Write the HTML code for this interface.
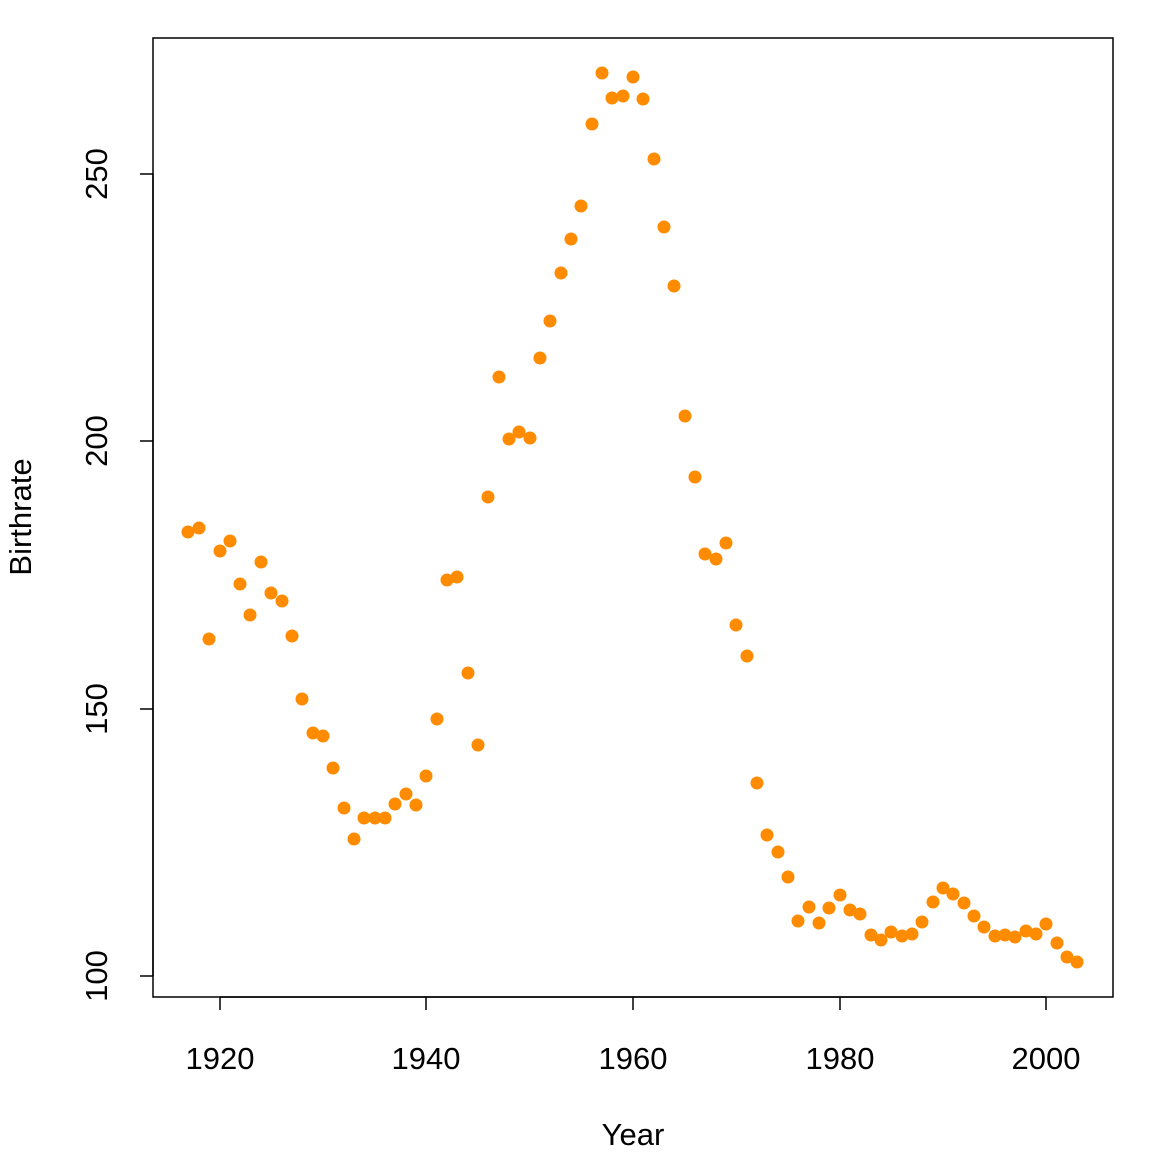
<!DOCTYPE html>
<html><head><meta charset="utf-8"><style>html,body{margin:0;padding:0;background:#fff}</style></head>
<body>
<svg width="1152" height="1152" viewBox="0 0 1152 1152" xmlns="http://www.w3.org/2000/svg" font-family="Liberation Sans, sans-serif">
<rect x="153" y="38" width="960" height="959" fill="none" stroke="#000" stroke-width="1.5"/>
<g stroke="#000" stroke-width="1.5">
<line x1="220" y1="997" x2="1046" y2="997"/>
<line x1="220" y1="997" x2="220" y2="1010"/>
<line x1="426" y1="997" x2="426" y2="1010"/>
<line x1="633" y1="997" x2="633" y2="1010"/>
<line x1="840" y1="997" x2="840" y2="1010"/>
<line x1="1046" y1="997" x2="1046" y2="1010"/>
<line x1="153" y1="174" x2="153" y2="976"/>
<line x1="140" y1="976" x2="153" y2="976"/>
<line x1="140" y1="709" x2="153" y2="709"/>
<line x1="140" y1="441" x2="153" y2="441"/>
<line x1="140" y1="174" x2="153" y2="174"/>
</g>
<g font-size="31" text-anchor="middle" fill="#000">
<text x="220" y="1069">1920</text>
<text x="426" y="1069">1940</text>
<text x="633" y="1069">1960</text>
<text x="840" y="1069">1980</text>
<text x="1046" y="1069">2000</text>
<text transform="translate(107,976) rotate(-90)">100</text>
<text transform="translate(107,709) rotate(-90)">150</text>
<text transform="translate(107,441) rotate(-90)">200</text>
<text transform="translate(107,174) rotate(-90)">250</text>
<text x="633" y="1145">Year</text>
<text transform="translate(31,517) rotate(-90)">Birthrate</text>
</g>
<g fill="#FF8C00">
<circle cx="188" cy="532" r="6.5"/><circle cx="199" cy="528" r="6.5"/><circle cx="209" cy="639" r="6.5"/><circle cx="220" cy="551" r="6.5"/><circle cx="230" cy="541" r="6.5"/><circle cx="240" cy="584" r="6.5"/><circle cx="250" cy="615" r="6.5"/><circle cx="261" cy="562" r="6.5"/><circle cx="271" cy="593" r="6.5"/><circle cx="282" cy="601" r="6.5"/><circle cx="292" cy="636" r="6.5"/><circle cx="302" cy="699" r="6.5"/><circle cx="313" cy="733" r="6.5"/><circle cx="323" cy="736" r="6.5"/><circle cx="333" cy="768" r="6.5"/><circle cx="344" cy="808" r="6.5"/><circle cx="354" cy="839" r="6.5"/><circle cx="364" cy="818" r="6.5"/><circle cx="375" cy="818" r="6.5"/><circle cx="385" cy="818" r="6.5"/><circle cx="395" cy="804" r="6.5"/><circle cx="406" cy="794" r="6.5"/><circle cx="416" cy="805" r="6.5"/><circle cx="426" cy="776" r="6.5"/><circle cx="437" cy="719" r="6.5"/><circle cx="447" cy="580" r="6.5"/><circle cx="457" cy="577" r="6.5"/><circle cx="468" cy="673" r="6.5"/><circle cx="478" cy="745" r="6.5"/><circle cx="488" cy="497" r="6.5"/><circle cx="499" cy="377" r="6.5"/><circle cx="509" cy="439" r="6.5"/><circle cx="519" cy="432" r="6.5"/><circle cx="530" cy="438" r="6.5"/><circle cx="540" cy="358" r="6.5"/><circle cx="550" cy="321" r="6.5"/><circle cx="561" cy="273" r="6.5"/><circle cx="571" cy="239" r="6.5"/><circle cx="581" cy="206" r="6.5"/><circle cx="592" cy="124" r="6.5"/><circle cx="602" cy="73" r="6.5"/><circle cx="612" cy="98" r="6.5"/><circle cx="623" cy="96" r="6.5"/><circle cx="633" cy="77" r="6.5"/><circle cx="643" cy="99" r="6.5"/><circle cx="654" cy="159" r="6.5"/><circle cx="664" cy="227" r="6.5"/><circle cx="674" cy="286" r="6.5"/><circle cx="685" cy="416" r="6.5"/><circle cx="695" cy="477" r="6.5"/><circle cx="705" cy="554" r="6.5"/><circle cx="716" cy="559" r="6.5"/><circle cx="726" cy="543" r="6.5"/><circle cx="736" cy="625" r="6.5"/><circle cx="747" cy="656" r="6.5"/><circle cx="757" cy="783" r="6.5"/><circle cx="767" cy="835" r="6.5"/><circle cx="778" cy="852" r="6.5"/><circle cx="788" cy="877" r="6.5"/><circle cx="798" cy="921" r="6.5"/><circle cx="809" cy="907" r="6.5"/><circle cx="819" cy="923" r="6.5"/><circle cx="829" cy="908" r="6.5"/><circle cx="840" cy="895" r="6.5"/><circle cx="850" cy="910" r="6.5"/><circle cx="860" cy="914" r="6.5"/><circle cx="871" cy="935" r="6.5"/><circle cx="881" cy="940" r="6.5"/><circle cx="891" cy="932" r="6.5"/><circle cx="902" cy="936" r="6.5"/><circle cx="912" cy="934" r="6.5"/><circle cx="922" cy="922" r="6.5"/><circle cx="933" cy="902" r="6.5"/><circle cx="943" cy="888" r="6.5"/><circle cx="953" cy="894" r="6.5"/><circle cx="964" cy="903" r="6.5"/><circle cx="974" cy="916" r="6.5"/><circle cx="984" cy="927" r="6.5"/><circle cx="995" cy="936" r="6.5"/><circle cx="1005" cy="935" r="6.5"/><circle cx="1015" cy="937" r="6.5"/><circle cx="1026" cy="931" r="6.5"/><circle cx="1036" cy="934" r="6.5"/><circle cx="1046" cy="924" r="6.5"/><circle cx="1057" cy="943" r="6.5"/><circle cx="1067" cy="957" r="6.5"/><circle cx="1077" cy="962" r="6.5"/>
</g>
</svg>
</body></html>
